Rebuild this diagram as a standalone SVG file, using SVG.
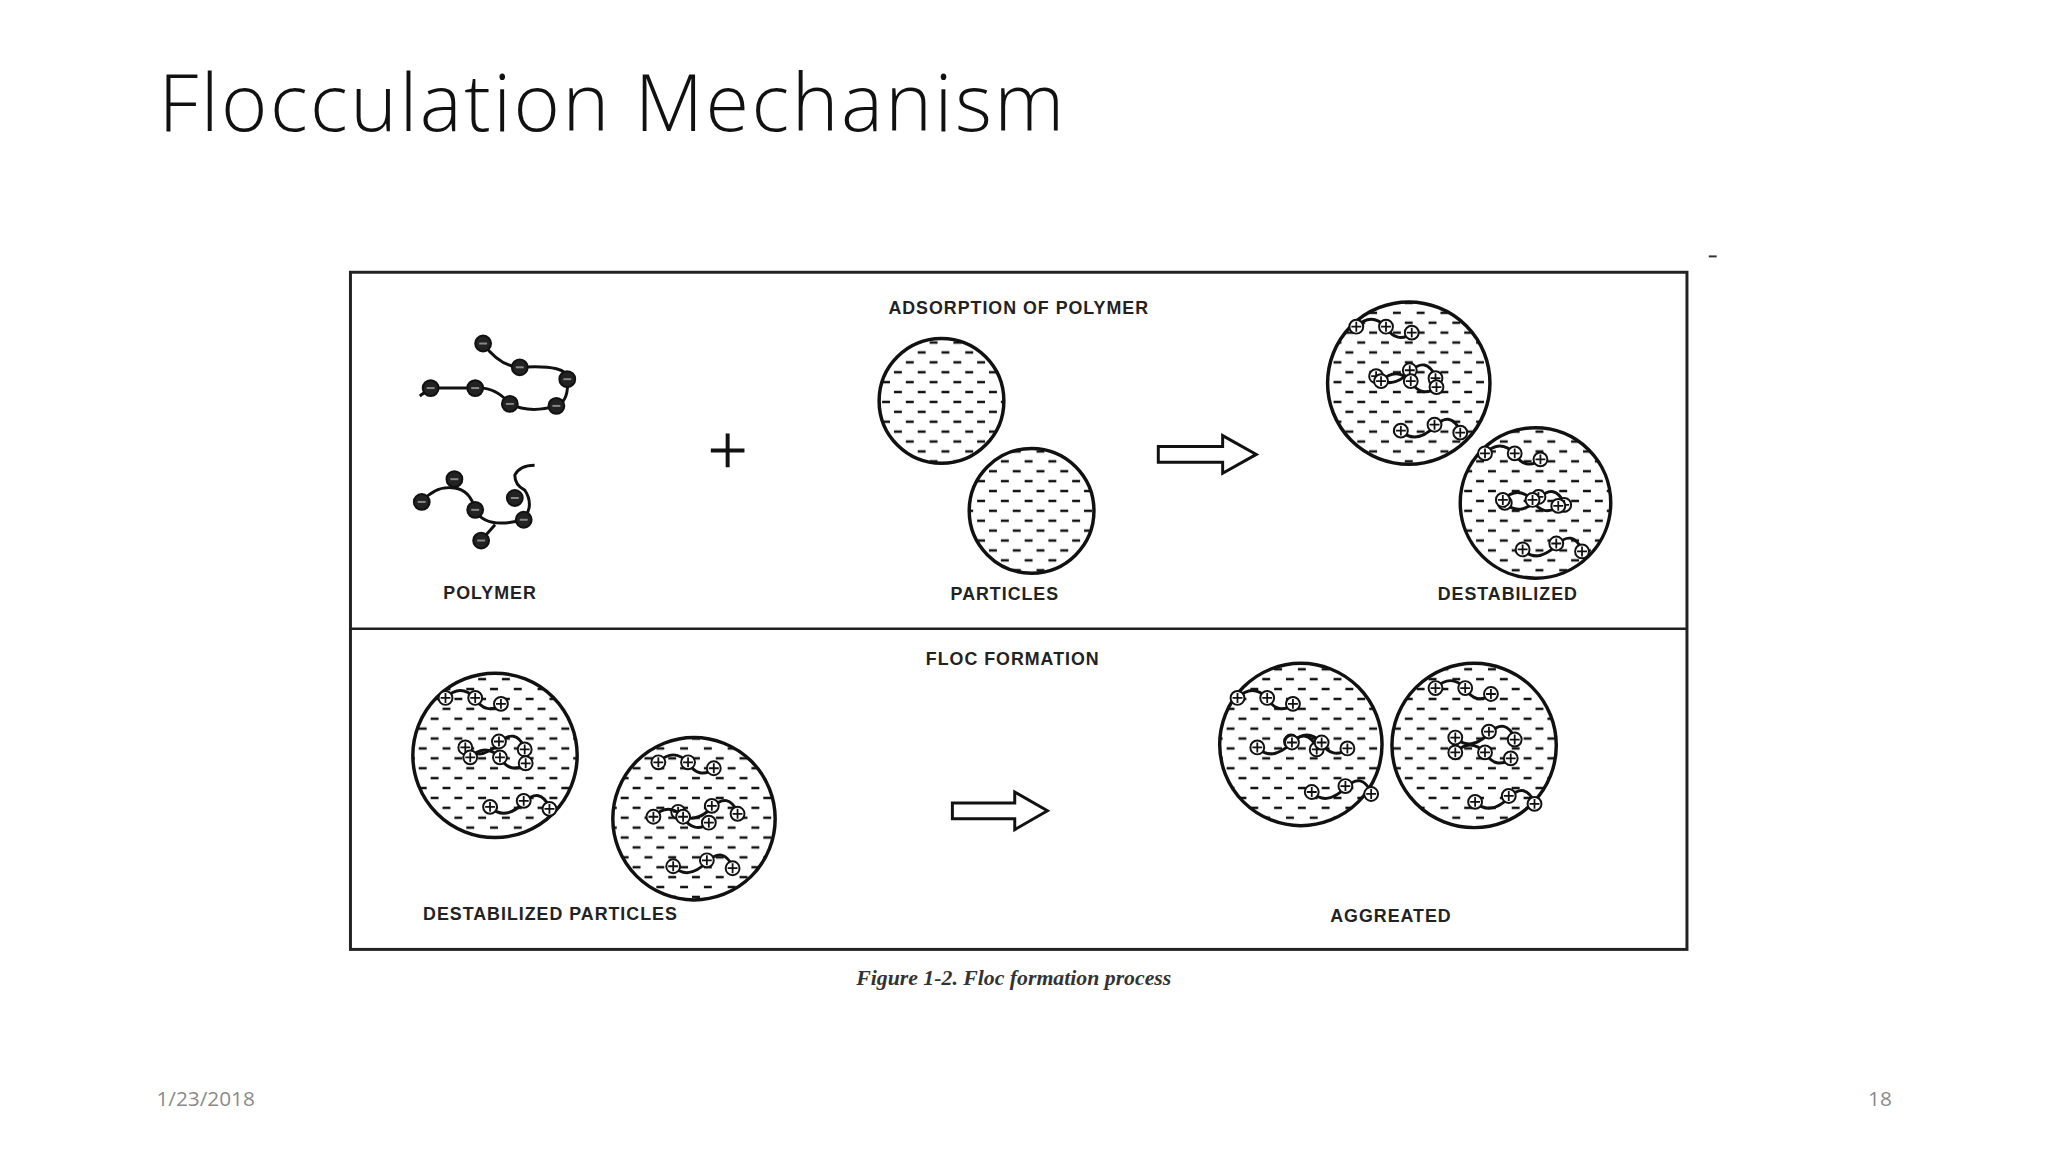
<svg xmlns="http://www.w3.org/2000/svg" xmlns:xlink="http://www.w3.org/1999/xlink" width="2048" height="1152" viewBox="0 0 2048 1152">
<style>
.t{font-family:"Liberation Sans",Arial,sans-serif;font-weight:bold;font-size:18px;fill:#222;text-anchor:middle;letter-spacing:1px}
.p{fill:url(#dash);stroke:#111;stroke-width:3.5}
.ch{fill:none;stroke:#111;stroke-width:3}
.ar{fill:#fff;stroke:#111;stroke-width:3;stroke-linejoin:miter}
.f{font-family:"Open Sans","Liberation Sans",sans-serif;fill:#8a8a8a;font-size:21px}
</style>
<defs>
<pattern id="dash" width="24" height="20" patternUnits="userSpaceOnUse">
<rect width="24" height="20" fill="#fff"/>
<line x1="3" y1="6" x2="11" y2="6" stroke="#111" stroke-width="2.5"/>
<line x1="15" y1="16" x2="23" y2="16" stroke="#111" stroke-width="2.5"/>
</pattern>
<g id="b"><circle r="8" fill="#222" stroke="#111" stroke-width="2"/><line x1="-4" y1="0" x2="4" y2="0" stroke="#888" stroke-width="2"/></g>
<g id="q"><circle r="7" fill="#fff" stroke="#111" stroke-width="2"/><path d="M-5 0H5M0-5V5" stroke="#111" stroke-width="1.8"/></g>
<g id="poly"><path class="ch" d="M-40 -30 q15 -15 30 0 q10 18 28 6 M-20 20 q15 15 35 -5 q15 -15 25 5"/><use href="#q" x="-40" y="-30"/><use href="#q" x="-10" y="-30"/><use href="#q" x="16" y="-24"/><use href="#q" x="-20" y="20"/><use href="#q" x="14" y="14"/><use href="#q" x="40" y="22"/></g>
</defs>
<rect width="2048" height="1152" fill="#fff"/>
<g transform="scale(0.99)">
<text x="160" y="132" font-family="Open Sans,Liberation Sans,sans-serif" font-weight="300" font-size="80" fill="#111" textLength="915">Flocculation Mechanism</text>
<g id="frame"><rect x="354" y="275" width="1350" height="684" fill="none" stroke="#222" stroke-width="3"/><line x1="354" y1="635" x2="1704" y2="635" stroke="#222" stroke-width="2.5"/><line x1="1726" y1="259" x2="1734" y2="259" stroke="#333" stroke-width="2"/></g>
<text class="t" x="1029" y="317">ADSORPTION OF POLYMER</text>
<text class="t" x="495" y="605">POLYMER</text>
<text class="t" x="1015" y="606">PARTICLES</text>
<text class="t" x="1523" y="606">DESTABILIZED</text>
<text class="t" x="1023" y="672">FLOC FORMATION</text>
<text class="t" x="556" y="929">DESTABILIZED PARTICLES</text>
<text class="t" x="1405" y="931">AGGREATED</text>
<text x="1024" y="995" text-anchor="middle" font-family="Liberation Serif,serif" font-style="italic" font-weight="bold" font-size="22" fill="#333">Figure 1-2.  Floc formation process</text>
<text class="f" x="158" y="1117">1/23/2018</text>
<text class="f" x="1911" y="1117" text-anchor="end">18</text>
<g id="polymer1"><path class="ch" d="M488 340V347 Q505 370 525 371 Q575 368 573 383 Q575 405 562 410 Q535 418 515 408 Q500 390 480 392 L435 392 L424 400"/><use href="#b" x="488" y="347"/><use href="#b" x="525" y="371"/><use href="#b" x="573" y="383"/><use href="#b" x="435" y="392"/><use href="#b" x="480" y="392"/><use href="#b" x="515" y="408"/><use href="#b" x="562" y="410"/></g>
<g id="polymer2"><path class="ch" d="M426 507 Q440 490 459 493 Q475 495 480 515 Q490 535 529 525 Q540 510 530 495 Q520 490 520 480 Q525 470 540 470 M459 493V484 M500 530 L486 546"/><use href="#b" x="459" y="484"/><use href="#b" x="426" y="507"/><use href="#b" x="480" y="515"/><use href="#b" x="529" y="525"/><use href="#b" x="520" y="503"/><use href="#b" x="486" y="546"/></g>
<g id="plus"><path d="M718 455H752M735 438V472" stroke="#111" stroke-width="4"/></g>
<g id="part1"><circle class="p" cx="951" cy="405" r="63"/></g>
<g id="part2"><circle class="p" cx="1042" cy="516" r="63"/></g>
<g id="dest1"><circle class="p" cx="1423" cy="387" r="82"/><use href="#poly" x="1410" y="360"/><use href="#poly" x="1435" y="415"/></g>
<g id="dest2"><circle class="p" cx="1551" cy="508" r="76"/><use href="#poly" x="1540" y="488"/><use href="#poly" x="1558" y="535"/></g>
<g id="floc1"><circle class="p" cx="500" cy="763" r="83"/><use href="#poly" x="490" y="735"/><use href="#poly" x="515" y="795"/></g>
<g id="floc2"><circle class="p" cx="701" cy="827" r="82"/><use href="#poly" x="705" y="800"/><use href="#poly" x="700" y="855"/></g>
<g id="agg1"><circle class="p" cx="1314" cy="752" r="82"/><use href="#poly" x="1290" y="735"/><use href="#poly" x="1345" y="780"/></g>
<g id="agg2"><circle class="p" cx="1489" cy="753" r="83"/><use href="#poly" x="1490" y="725"/><use href="#poly" x="1510" y="790"/></g>
<g id="connectors">
<path class="ar" d="M1170 451H1235V440L1269 459L1235 478V467H1170Z"/>
<path class="ar" d="M962 811H1025V800L1058 819L1025 838V827H962Z"/>
</g>
</g>
</svg>
